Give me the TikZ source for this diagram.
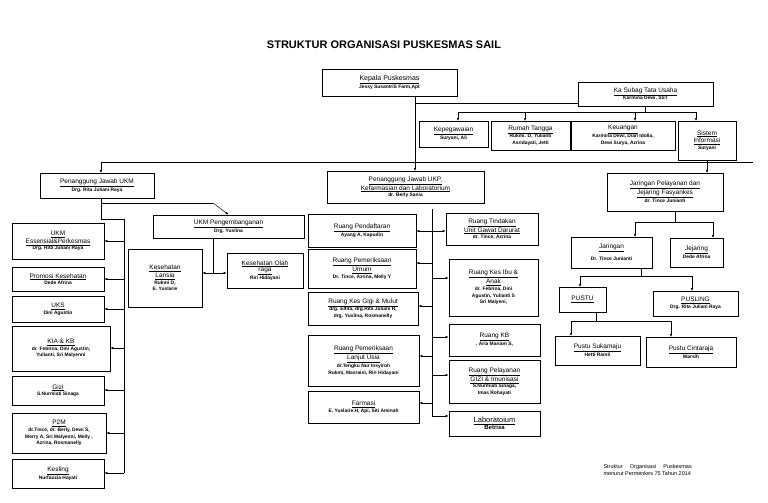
\documentclass[tikz,border=0pt]{standalone}
\usepackage{fontspec}
\setmainfont{Liberation Sans}
\usetikzlibrary{arrows.meta}
\newcommand\ttl[1]{{\fontsize{6.5}{7}\selectfont\underline{#1}}}
\newcommand\nm[1]{{\fontsize{4.9}{6}\selectfont\bfseries #1}}
\tikzset{bx/.style={draw,line width=0.8pt,align=center,inner sep=1pt,anchor=center,font=\fontsize{5}{6.6}\selectfont},
 ar/.style={-{Latex[length=3pt,width=2.5pt]},line width=0.5pt},
 ln/.style={line width=0.5pt},
 ba/.style={{Latex[length=3pt,width=2.5pt]}-{Latex[length=3pt,width=2.5pt]},line width=0.5pt}}
\newcommand\bx[6]{\node[bx,minimum width={(#4-#2)*1pt},minimum height={(#5-#3)*1pt}] (#1) at ({(#2+#4)/2},{(#3+#5)/2}) {#6};}
\begin{document}
\begin{tikzpicture}[x=1pt,y=-1pt]
\useasboundingbox (0,0) rectangle (768,503);
\node[font=\bfseries\fontsize{11}{12}\selectfont] (title) at (384,45) {STRUKTUR ORGANISASI PUSKESMAS SAIL};
\bx{kep}{322}{69}{457}{96}{{\fontsize{7}{8}\selectfont\underline{Kepala Puskesmas}}\\\nm{Jessy SusantriS Farm,Apt}}
\bx{sub}{578}{82}{713}{106}{\ttl{Ka Subag Tata Usaha}\\\nm{Karmina Dewi, SST}}
\bx{peg}{419}{121}{488}{147}{\ttl{Kepegawaian}\\\nm{Suryani, Ali}}
\bx{rt}{491}{121}{570}{150}{\ttl{Rumah Tangga}\\\nm{Rukmi. D, Yulianti}\\\nm{Asridayati, Jetti}}
\bx{keu}{571}{121}{675}{150}{\ttl{Keuangan}\\\nm{Karmina Dewi, Dian Idolla,}\\\nm{Dewi Surya, Azrina}}
\bx{si}{678}{121}{736}{160}{\ttl{Sistem}\\\ttl{Informasi}\\\nm{Suryani}}
% UKM
\bx{ukm}{40}{173}{154}{198}{\ttl{Penanggung Jawab UKM}\\\nm{Drg. Rita Juliani Raya}}
\bx{ess}{12}{223}{104}{259}{\ttl{UKM}\\\ttl{Essensial\&Perkesmas}\\\nm{Drg. Rita Juliani Raya}}
\bx{pro}{12}{267}{104}{291}{\ttl{Promosi Kesehatan}\\\nm{Dede Afrina}}
\bx{uks}{12}{296}{104}{322}{\ttl{UKS}\\\nm{Dini Agustin}}
\bx{kia}{12}{326}{110}{371}{\ttl{KIA \& KB}\\\nm{dr. Febrina, Dini Agustin,}\\\nm{Yulianti, Sri Malyenni}}
\bx{gizi}{12}{376}{104}{405}{\ttl{Gizi}\\\nm{S.Nurmiati Sinaga}}
\bx{p2m}{12}{413}{106}{453}{\ttl{P2M}\\\nm{dr.Tince, dr. Berly, Dewi S,}\\\nm{Merry A, Sri Malyenni, Melly ,}\\\nm{Azrina, Rosmanelly}}
\bx{kes}{12}{459}{104}{488}{\ttl{Kesling}\\\nm{Nurfauzia Hayati}}
\bx{peng}{153}{215}{304}{238}{\ttl{UKM Pengembanganan}\\\nm{Drg. Yuslina}}
\bx{lan}{128}{249}{202}{307}{\ttl{Kesehatan}\\\ttl{Lansia}\\\nm{Rukmi D,}\\\nm{E. Yuslarie}}
\bx{olr}{227}{253}{303}{288}{\ttl{Kesehatan Olah}\\\ttl{raga}\\\nm{Riri Hidayani}}
% UKP
\bx{ukp}{327}{171}{484}{203}{\ttl{Penanggung Jawab UKP,}\\\ttl{Kefarmasian dan Laboratorium}\\\nm{dr. Berly Sania}}
\bx{daf}{308}{214}{416}{247}{\ttl{Ruang Pendaftaran}\\\nm{Ayang A, Kapudin}}
\bx{umu}{308}{249}{416}{288}{\ttl{Ruang Pemeriksaan}\\\ttl{Umum}\\\nm{Dr. Tince, Azrina, Melly Y}}
\bx{gig}{308}{292}{418}{325}{\ttl{Ruang Kes Gigi \& Mulut}\\\nm{drg. Elfita, drg.Rita Juliani R,}\\\nm{drg. Yuslina, Rosmanelly}}
\bx{lju}{308}{335}{419}{386}{\ttl{Ruang Pemeriksaan}\\\ttl{Lanjut Usia}\\\nm{dr.Tengku Nur Insyiroh}\\\nm{Rukmi, Masraini, Riri Hidayani}}
\bx{far}{308}{391}{419}{423}{\ttl{Farmasi}\\\nm{E. Yuslarie.H, Api, Siti Aminah}}
\bx{tin}{446}{213}{538}{245}{\ttl{Ruang Tindakan}\\\ttl{Unit Gawat Darurat}\\\nm{dr. Tince, Azrina}}
\bx{ibu}{449}{259}{538}{316}{\ttl{Ruang Kes Ibu \&}\\\ttl{Anak}\\\nm{dr. Febrina, Dini}\\\nm{Agustin, Yulianti S}\\\nm{Sri Malyeni,}}
\bx{kb}{449}{324}{540}{356}{\ttl{Ruang KB}\\\nm{, Aria Mariam S,}}
\bx{imu}{449}{360}{540}{403}{\ttl{Ruang Pelayanan}\\\ttl{GIZI \& Imunisasi}\\\nm{S.Nurmiati Sinaga,}\\\nm{Imas Rohayati}}
\bx{lab}{449}{411}{540}{436}{{\fontsize{7.5}{8.5}\selectfont\underline{Laboratoium}}\\{\fontsize{6}{7}\selectfont\bfseries Betrisa}}
% Jaringan
\bx{jpl}{607}{173}{723}{211}{\ttl{Jaringan Pelayanan dan}\\\ttl{Jejaring Fasyankes}\\\nm{dr. Tince Junianti}}
\bx{jar}{571}{237}{652}{268}{\ttl{Jaringan}\\[4pt]\nm{Dr. Tince Junianti}}
\bx{jej}{670}{238}{723}{267}{\ttl{Jejaring}\\\nm{Dede Afrina}}
\bx{pus}{559}{287}{606}{312}{\ttl{PUSTU}}
\bx{pl}{653}{291}{738}{316}{\ttl{PUSLING}\\\nm{Drg. Rita Juliani Raya}}
\bx{suk}{555}{336}{640}{365}{\ttl{Pustu Sukamaju}\\\nm{Hetti Ramli}}
\bx{cin}{646}{337}{736}{367}{\ttl{Pustu Cintaraja}\\\nm{Warsih}}
\node[align=left,font=\fontsize{5.5}{7}\selectfont,anchor=north west] (foot) at (600,461) {Struktur\hspace{1.3em}Organisasi\hspace{1.3em}Puskesmas\\menurut Permenkes 75 Tahun 2014};
% connectors top
\draw[ar] (415,96) -- (415,171);
\draw[ln] (415,103) -- (sub.west |- 0,103);
\draw[ln] (645,106) -- (645,112);
\draw[ln] (458,112) -- (696,112);
\foreach \x/\n in {458/peg,525/rt,635/keu,696/si}{\draw[ar] (\x,112) -- (\x,121);}
\draw[ln] (101,162) -- (753,162);
\draw[ar] (101,162) -- (101,173);
\draw[ar] (707,160) -- (707,173);
% UKM
\draw[ln] (101,198) -- (101,203) -- (213,203);
\draw[ar] (213,203) -- (peng.north);
\draw[ln] (101,203) -- (101,219) -- (124,219) -- (124,473);
\foreach \y/\n in {241/ess,279/pro,309/uks,348/kia,390/gizi,433/p2m,473/kes}{\draw[ar] (124,\y) -- (\n.east |- 0,\y);}
\draw[ln] (213,238) -- (213,273);
\draw[ar] (213,273) -- (lan.east |- 0,273);
\draw[ar] (213,273) -- (olr.west |- 0,273);
% UKP
\draw[ln] (432,209) -- (432,416);
\draw[ba] (daf.east |- 0,231) -- (tin.west |- 0,231);
\foreach \y/\n in {263/umu,306/gig,356/lju,403/far}{\draw[ar] (432,\y) -- (\n.east |- 0,\y);}
\foreach \y/\n in {278/ibu,337/kb,375/imu,416/lab}{\draw[ar] (432,\y) -- (\n.west |- 0,\y);}
% Jaringan
\draw[ln] (675,211) -- (675,222);
\draw[ln] (635,222) -- (713,222);
\draw[ar] (635,222) -- (635,237);
\draw[ar] (713,222) -- (713,238);
\draw[ln] (641,268) -- (641,276);
\draw[ln] (580,276) -- (692,276);
\draw[ar] (580,276) -- (580,287);
\draw[ar] (692,276) -- (692,291);
\draw[ln] (596,312) -- (596,321);
\draw[ln] (571,321) -- (671,321);
\draw[ar] (571,321) -- (571,336);
\draw[ar] (671,321) -- (671,337);
\end{tikzpicture}
\end{document}
